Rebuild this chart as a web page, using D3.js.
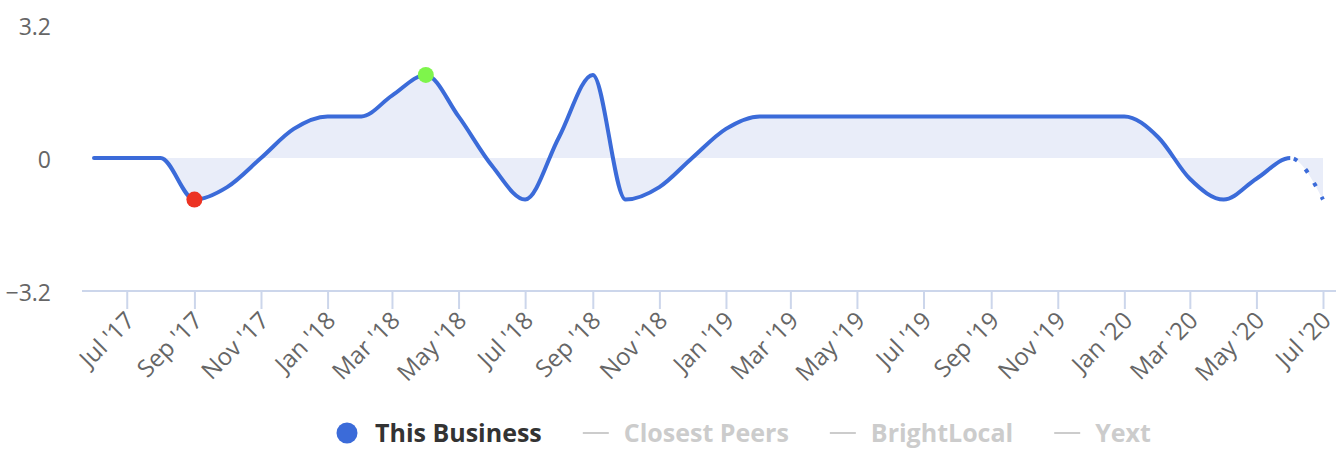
<!DOCTYPE html>
<html>
<head>
<meta charset="utf-8">
<script src="https://cdn.jsdelivr.net/npm/d3@7"></script>
<style>
  body { margin: 0; background: #fff; }
  svg { display: block; font-family: "Open Sans", sans-serif; }
</style>
</head>
<body>
<svg id="chart" width="1338" height="454"></svg>
<script>
// monthly values of This Business
const months = ["2017-06","2017-07","2017-08","2017-09","2017-10","2017-11","2017-12",
  "2018-01","2018-02","2018-03","2018-04","2018-05","2018-06","2018-07","2018-08","2018-09",
  "2018-10","2018-11","2018-12","2019-01","2019-02","2019-03","2019-04","2019-05","2019-06",
  "2019-07","2019-08","2019-09","2019-10","2019-11","2019-12","2020-01","2020-02","2020-03",
  "2020-04","2020-05","2020-06","2020-07"];
const values = [0, 0, 0, -1, -0.7, 0, 0.7,
  1, 1, 1.5, 2, 1, -0.2, -1, 0.5, 2,
  -1, -0.7, 0, 0.7, 1, 1, 1, 1, 1,
  1, 1, 1, 1, 1, 1, 1, 0.5, -0.5,
  -1, -0.5, 0, -1];
// last segment is the projection (dotted)
const projectedFrom = "2020-06";
const yTicks = [-3.2, 0, 3.2];
const legendNames = ["This Business", "Closest Peers", "BrightLocal", "Yext"];

const color = {
    line: "#3b6bd9",
    area: "#e9edf9",
    low: "#ec3323",
    high: "#7ef54b",
    axis: "#ccd6eb",
    label: "#666666",
    off: "#cccccc"
};

const svg = d3.select('#chart');
const width = +svg.attr('width');

const parseMonth = d3.timeParse("%Y-%m");
const data = months.map((m, i) => ({date: parseMonth(m), value: values[i]}));

//Scales
const xScale = d3.scaleTime()
    .domain([data[0].date, data[data.length - 1].date])
    .range([94, 1323]);

const yScale = d3.scaleLinear()
    .domain([-3.2, 3.2])
    .range([291, 25]);

//Area between the curve and zero
const area = d3.area()
    .x(d => xScale(d.date))
    .y0(yScale(0))
    .y1(d => yScale(d.value))
    .curve(d3.curveMonotoneX);

svg.append('path')
    .datum(data)
    .attr('d', area)
    .style('fill', color.area);

//Line, split into solid and dotted parts with clips
const splitX = xScale(parseMonth(projectedFrom));
const defs = svg.append('defs');
defs.append('clipPath').attr('id', 'clip-solid')
    .append('rect').attr('x', 0).attr('y', 0).attr('width', splitX).attr('height', 454);
defs.append('clipPath').attr('id', 'clip-dot')
    .append('rect').attr('x', splitX).attr('y', 0).attr('width', width - splitX).attr('height', 454);

const line = d3.line()
    .x(d => xScale(d.date))
    .y(d => yScale(d.value))
    .curve(d3.curveMonotoneX);

svg.append('path')
    .datum(data)
    .attr('d', line)
    .attr('clip-path', 'url(#clip-solid)')
    .style('fill', 'none')
    .style('stroke', color.line)
    .style('stroke-width', 4)
    .style('stroke-linejoin', 'round')
    .style('stroke-linecap', 'round');

svg.append('path')
    .datum(data)
    .attr('d', line)
    .attr('clip-path', 'url(#clip-dot)')
    .style('fill', 'none')
    .style('stroke', color.line)
    .style('stroke-width', 4)
    .style('stroke-dasharray', '4,12')
    .style('stroke-dashoffset', -6);

//Lowest and highest points
const lo = data[d3.minIndex(data, d => d.value)];
const hi = data[d3.maxIndex(data, d => d.value)];
[[lo, color.low], [hi, color.high]].forEach(([d, c]) => {
    svg.append('circle')
        .attr('cx', xScale(d.date))
        .attr('cy', yScale(d.value))
        .attr('r', 8)
        .style('fill', c);
});

//X axis
const xAxis = svg.append('g')
    .attr('transform', `translate(0,${yScale(-3.2)})`)
    .call(d3.axisBottom(xScale)
        .ticks(d3.timeMonth.filter(d => d.getMonth() % 2 === 0))
        .tickFormat(d3.timeFormat("%b '%y"))
        .tickSize(18)
        .tickSizeOuter(0));
xAxis.select('.domain').remove();
xAxis.insert('line', ':first-child')
    .attr('x1', 82).attr('x2', 1336)
    .style('stroke', color.axis)
    .style('stroke-width', 2);
xAxis.selectAll('.tick line')
    .style('stroke', color.axis)
    .style('stroke-width', 2);
xAxis.selectAll('.tick text')
    .attr('x', 0).attr('y', 0).attr('dy', 0)
    .attr('transform', 'translate(9,31) rotate(-45)')
    .style('text-anchor', 'end')
    .style('font-family', '"Open Sans", sans-serif')
    .style('font-size', '24px')
    .style('fill', color.label);

//Y labels
svg.append('g').selectAll('text')
    .data(yTicks)
    .enter().append('text')
    .attr('x', 51)
    .attr('y', d => yScale(d) + 10)
    .style('text-anchor', 'end')
    .style('font-size', '23px')
    .style('fill', color.label)
    .text(d => d3.format(".1~f")(d).replace('-', '\u2212'));

//Legend
const legend = svg.append('g').attr('transform', 'translate(336,433)');
let lx = 0;
legendNames.forEach((name, i) => {
    const g = legend.append('g').attr('transform', `translate(${lx},0)`);
    if (i === 0) {
        g.append('circle').attr('cx', 11).attr('cy', 0).attr('r', 10.5).style('fill', color.line);
    } else {
        g.append('line').attr('x1', 0).attr('x2', 26).attr('y1', 0).attr('y2', 0)
            .style('stroke', color.off).style('stroke-width', 2);
    }
    const t = g.append('text')
        .attr('x', i === 0 ? 39 : 41)
        .attr('y', 9)
        .style('font-size', '25px')
        .style('font-weight', 'bold')
        .style('fill', i === 0 ? '#333333' : color.off)
        .text(name);
    lx += (i === 0 ? 39 : 41) + t.node().getComputedTextLength() + 41;
});
</script>
</body>
</html>
